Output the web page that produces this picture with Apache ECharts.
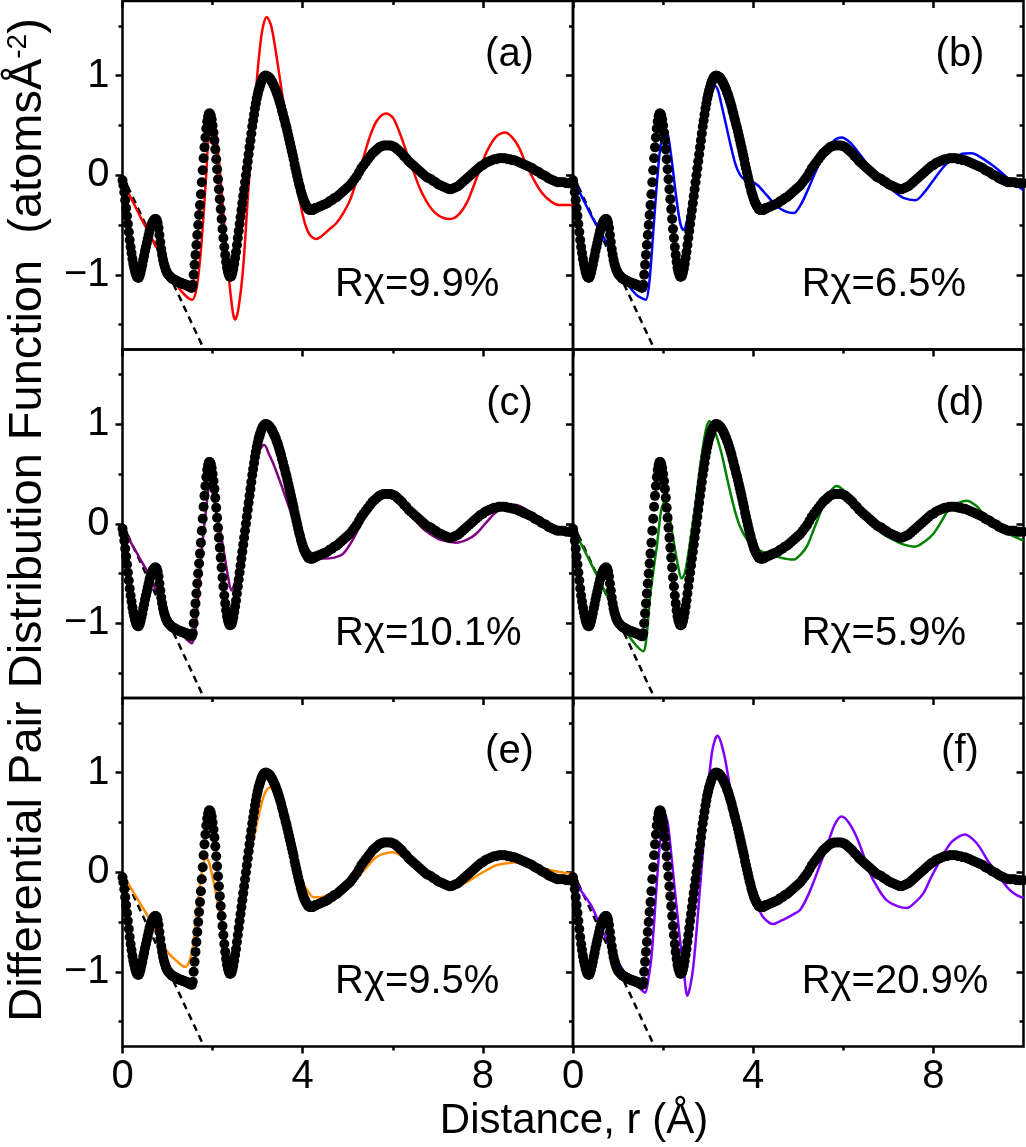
<!DOCTYPE html>
<html>
<head>
<meta charset="utf-8">
<script src="https://cdn.jsdelivr.net/npm/echarts@6/dist/echarts.min.js"></script>
<style>
html, body { margin: 0; padding: 0; background: #fff; }
#main { width: 1026px; height: 1147px; }
</style>
</head>
<body>
<div id="main"></div>
<script type="text/javascript">
// experimental d(r): dense part, x = 0 .. 4.30 step 0.02
var expDenseStart = 0, expDenseStep = 0.02;
var expDense = [
  -0.05,-0.10,-0.17,-0.25,-0.33,-0.41,-0.49,-0.57,-0.65,-0.72,
  -0.78,-0.84,-0.89,-0.93,-0.97,-1.00,-1.02,-1.03,-1.03,-1.01,
  -0.98,-0.94,-0.90,-0.85,-0.81,-0.76,-0.72,-0.68,-0.64,-0.60,
  -0.56,-0.53,-0.50,-0.48,-0.46,-0.45,-0.44,-0.44,-0.45,-0.48,
  -0.53,-0.60,-0.67,-0.74,-0.80,-0.85,-0.89,-0.92,-0.95,-0.97,
  -0.99,-1.00,-1.01,-1.02,-1.03,-1.04,-1.04,-1.05,-1.05,-1.06,
  -1.06,-1.07,-1.07,-1.08,-1.08,-1.08,-1.09,-1.09,-1.09,-1.10,
  -1.10,-1.10,-1.11,-1.11,-1.12,-1.12,-1.13,-1.13,-1.10,-1.00,
  -0.90,-0.80,-0.70,-0.60,-0.50,-0.40,-0.30,-0.19,-0.07,0.05,
  0.17,0.28,0.38,0.47,0.54,0.59,0.62,0.62,0.60,0.56,
  0.50,0.43,0.35,0.26,0.16,0.06,-0.04,-0.14,-0.24,-0.34,
  -0.44,-0.54,-0.63,-0.72,-0.80,-0.87,-0.93,-0.97,-1.00,-1.02,
  -1.02,-1.01,-0.98,-0.94,-0.89,-0.83,-0.77,-0.70,-0.63,-0.56,
  -0.49,-0.42,-0.35,-0.28,-0.21,-0.14,-0.07,0.00,0.07,0.14,
  0.21,0.28,0.35,0.42,0.49,0.55,0.61,0.67,0.72,0.77,
  0.81,0.85,0.88,0.91,0.94,0.96,0.98,0.99,1.00,1.00,
  1.00,0.99,0.99,0.98,0.97,0.95,0.94,0.92,0.90,0.88,
  0.86,0.83,0.81,0.78,0.75,0.72,0.69,0.65,0.62,0.58,
  0.55,0.51,0.48,0.44,0.40,0.36,0.32,0.28,0.24,0.20,
  0.16,0.11,0.07,0.03,-0.01,-0.05,-0.09,-0.12,-0.16,-0.19,
  -0.22,-0.25,-0.27,-0.29,-0.31,-0.32,-0.34,-0.34,-0.35,-0.35,
  -0.35,-0.35,-0.34,-0.34,-0.33,-0.33
];
// experimental d(r): sparse part, x = 4.35 .. 10 step 0.05
var expSparseStart = 4.35, expSparseStep = 0.05;
var expSparse = [
  -0.32,-0.31,-0.30,-0.29,-0.28,-0.26,-0.25,-0.23,-0.22,-0.20,
  -0.18,-0.16,-0.14,-0.12,-0.10,-0.07,-0.04,-0.01,0.03,0.07,
  0.10,0.13,0.16,0.19,0.22,0.24,0.26,0.28,0.29,0.30,
  0.30,0.30,0.30,0.29,0.28,0.26,0.24,0.22,0.19,0.17,
  0.14,0.12,0.10,0.08,0.06,0.04,0.02,0.00,-0.02,-0.03,
  -0.04,-0.06,-0.07,-0.09,-0.10,-0.11,-0.12,-0.13,-0.14,-0.14,
  -0.13,-0.12,-0.11,-0.09,-0.07,-0.05,-0.03,-0.01,0.01,0.03,
  0.05,0.07,0.09,0.10,0.12,0.13,0.14,0.15,0.16,0.16,
  0.17,0.17,0.17,0.17,0.16,0.16,0.15,0.15,0.14,0.13,
  0.12,0.11,0.10,0.09,0.08,0.07,0.05,0.04,0.03,0.01,
  0.00,-0.01,-0.03,-0.04,-0.05,-0.06,-0.07,-0.07,-0.07,-0.07,
  -0.08,-0.08,-0.08,-0.08
];

// -4*pi*rho0*r baseline
var baseline = [[0, 0], [1.81, -1.75]];

// model fits [r, d(r)]
var fitA = [[0,-0.06],[0.2,-0.24],[0.4,-0.42],[0.6,-0.59],[0.8,-0.76],[1.0,-0.94],[1.2,-1.1],[1.4,-1.21],[1.55,-1.25],[1.65,-1.12],
  [1.75,-0.7],[1.85,-0.05],[1.92,0.48],[1.98,0.65],[2.05,0.5],[2.15,0.1],[2.25,-0.45],[2.35,-0.98],[2.45,-1.38],[2.5,-1.45],
  [2.57,-1.35],[2.68,-0.92],[2.8,-0.1],[2.9,0.45],[3.0,1.05],[3.1,1.45],[3.2,1.59],[3.3,1.5],[3.4,1.25],[3.5,0.95],
  [3.6,0.65],[3.7,0.38],[3.8,0.12],[3.9,-0.15],[4.0,-0.4],[4.1,-0.55],[4.2,-0.62],[4.3,-0.64],[4.45,-0.6],[4.6,-0.54],
  [4.75,-0.48],[4.9,-0.38],[5.05,-0.25],[5.2,-0.05],[5.35,0.18],[5.5,0.4],[5.65,0.55],[5.85,0.62],[6.0,0.58],[6.15,0.43],
  [6.3,0.24],[6.45,0.05],[6.6,-0.13],[6.8,-0.3],[7.0,-0.4],[7.25,-0.44],[7.45,-0.4],[7.65,-0.27],[7.8,-0.1],[7.95,0.08],
  [8.1,0.25],[8.3,0.39],[8.5,0.43],[8.65,0.38],[8.8,0.28],[8.95,0.12],[9.1,-0.02],[9.3,-0.17],[9.5,-0.26],[9.7,-0.3],[10,-0.3]];
var fitB = [[0,-0.04],[0.2,-0.22],[0.4,-0.4],[0.6,-0.56],[0.8,-0.72],[1.0,-0.9],[1.2,-1.08],[1.4,-1.2],[1.55,-1.24],[1.62,-1.25],
  [1.7,-1.05],[1.78,-0.58],[1.85,-0.15],[1.93,0.25],[2.0,0.42],[2.06,0.46],[2.12,0.38],[2.2,0.12],[2.3,-0.25],[2.38,-0.48],
  [2.45,-0.55],[2.52,-0.48],[2.6,-0.3],[2.7,-0.05],[2.8,0.25],[2.9,0.52],[3.0,0.75],[3.1,0.88],[3.15,0.9],[3.22,0.85],
  [3.3,0.7],[3.4,0.5],[3.5,0.3],[3.6,0.12],[3.7,0.01],[3.8,-0.04],[3.95,-0.06],[4.1,-0.1],[4.3,-0.2],[4.5,-0.3],
  [4.7,-0.36],[4.9,-0.38],[5.05,-0.3],[5.2,-0.16],[5.4,0.05],[5.6,0.23],[5.8,0.35],[5.96,0.38],[6.15,0.33],[6.35,0.22],
  [6.55,0.1],[6.75,0.0],[6.95,-0.1],[7.15,-0.17],[7.35,-0.23],[7.6,-0.25],[7.8,-0.17],[8.0,-0.05],[8.2,0.07],[8.4,0.16],
  [8.6,0.21],[8.85,0.22],[9.05,0.18],[9.25,0.12],[9.45,0.05],[9.65,-0.03],[9.85,-0.1],[10,-0.15]];
var fitC = [[0,-0.05],[0.2,-0.2],[0.4,-0.36],[0.6,-0.52],[0.8,-0.73],[1.0,-0.91],[1.2,-1.05],[1.4,-1.15],[1.54,-1.2],[1.62,-1.05],
  [1.72,-0.5],[1.8,-0.08],[1.87,0.2],[1.94,0.42],[2.0,0.32],[2.08,0.12],[2.16,-0.05],[2.25,-0.28],[2.33,-0.5],[2.42,-0.67],
  [2.5,-0.58],[2.6,-0.35],[2.7,-0.02],[2.8,0.28],[2.9,0.52],[3.0,0.7],[3.1,0.78],[3.15,0.79],[3.25,0.7],[3.35,0.6],
  [3.5,0.42],[3.64,0.24],[3.75,0.1],[3.87,-0.03],[4.0,-0.16],[4.16,-0.28],[4.3,-0.33],[4.46,-0.35],[4.7,-0.34],[4.9,-0.3],
  [5.1,-0.17],[5.3,0.0],[5.5,0.14],[5.7,0.25],[5.9,0.3],[6.05,0.27],[6.25,0.17],[6.45,0.06],[6.65,-0.04],[6.85,-0.11],
  [7.05,-0.16],[7.4,-0.19],[7.65,-0.16],[7.85,-0.1],[8.05,0.0],[8.25,0.1],[8.45,0.17],[8.7,0.19],[8.9,0.16],[9.1,0.1],
  [9.3,0.03],[9.5,-0.03],[9.75,-0.09],[10,-0.13]];
var fitD = [[0,-0.05],[0.2,-0.22],[0.4,-0.4],[0.6,-0.58],[0.8,-0.76],[1.0,-0.94],[1.2,-1.1],[1.4,-1.22],[1.56,-1.28],[1.64,-1.1],
  [1.71,-0.73],[1.8,-0.42],[1.86,-0.23],[1.93,0.05],[1.97,0.16],[2.04,0.22],[2.1,0.17],[2.17,0.0],[2.25,-0.22],[2.33,-0.42],
  [2.41,-0.55],[2.48,-0.5],[2.56,-0.3],[2.64,-0.05],[2.71,0.17],[2.8,0.5],[2.9,0.82],[2.97,0.98],[3.03,1.03],[3.1,0.98],
  [3.2,0.86],[3.3,0.7],[3.4,0.5],[3.5,0.3],[3.6,0.12],[3.71,-0.03],[3.85,-0.15],[4.0,-0.23],[4.2,-0.28],[4.4,-0.31],
  [4.6,-0.34],[4.89,-0.36],[5.05,-0.31],[5.2,-0.22],[5.35,-0.05],[5.48,0.1],[5.6,0.24],[5.72,0.33],[5.85,0.38],[6.0,0.34],
  [6.22,0.23],[6.45,0.1],[6.67,-0.03],[6.9,-0.11],[7.11,-0.16],[7.35,-0.21],[7.59,-0.23],[7.8,-0.18],[8.0,-0.1],[8.2,0.04],
  [8.37,0.17],[8.55,0.21],[8.74,0.23],[8.95,0.18],[9.11,0.1],[9.35,0.01],[9.55,-0.07],[9.75,-0.12],[10,-0.17]];
var fitE = [[0,-0.02],[0.2,-0.17],[0.4,-0.32],[0.6,-0.47],[0.8,-0.65],[1.0,-0.8],[1.2,-0.89],[1.39,-0.95],[1.48,-0.9],[1.56,-0.75],
  [1.65,-0.41],[1.72,-0.13],[1.78,0.05],[1.85,0.15],[1.92,0.1],[1.98,-0.01],[2.06,-0.18],[2.13,-0.35],[2.22,-0.58],[2.3,-0.75],
  [2.42,-0.88],[2.5,-0.75],[2.61,-0.45],[2.72,-0.15],[2.83,0.15],[2.95,0.42],[3.05,0.62],[3.15,0.78],[3.27,0.85],[3.38,0.8],
  [3.5,0.65],[3.6,0.47],[3.72,0.25],[3.83,0.08],[3.94,-0.05],[4.1,-0.18],[4.24,-0.25],[4.4,-0.25],[4.6,-0.22],[4.8,-0.19],
  [4.98,-0.15],[5.2,-0.06],[5.42,0.05],[5.6,0.14],[5.75,0.18],[6.0,0.2],[6.2,0.16],[6.38,0.09],[6.55,0.02],[6.75,-0.05],
  [7.0,-0.12],[7.2,-0.15],[7.45,-0.13],[7.64,-0.1],[7.85,-0.04],[8.08,0.02],[8.3,0.07],[8.53,0.09],[8.82,0.1],[9.05,0.08],
  [9.27,0.05],[9.5,0.02],[9.75,0.0],[10,-0.02]];
var fitF = [[0,-0.05],[0.2,-0.2],[0.4,-0.33],[0.6,-0.53],[0.8,-0.73],[1.0,-0.9],[1.2,-1.04],[1.41,-1.13],[1.52,-1.18],[1.6,-1.21],
  [1.67,-1.08],[1.75,-0.81],[1.86,-0.11],[1.92,0.25],[1.97,0.45],[2.04,0.57],[2.1,0.5],[2.15,0.32],[2.22,0.0],[2.3,-0.35],
  [2.38,-0.7],[2.45,-0.95],[2.54,-1.24],[2.6,-1.15],[2.67,-0.95],[2.75,-0.55],[2.82,-0.15],[2.9,0.3],[2.97,0.72],[3.08,1.19],
  [3.15,1.33],[3.21,1.37],[3.28,1.31],[3.37,1.15],[3.46,0.92],[3.56,0.65],[3.67,0.4],[3.78,0.15],[3.9,-0.05],[4.0,-0.21],
  [4.1,-0.34],[4.22,-0.45],[4.45,-0.52],[4.6,-0.49],[4.74,-0.46],[4.9,-0.42],[5.04,-0.38],[5.2,-0.25],[5.33,-0.11],[5.48,0.07],
  [5.63,0.25],[5.8,0.47],[5.96,0.56],[6.12,0.5],[6.3,0.35],[6.45,0.17],[6.59,-0.01],[6.78,-0.17],[6.96,-0.28],[7.2,-0.34],
  [7.41,-0.36],[7.6,-0.3],[7.78,-0.21],[7.95,-0.05],[8.15,0.12],[8.3,0.24],[8.44,0.32],[8.7,0.38],[8.88,0.33],[9.03,0.25],
  [9.2,0.12],[9.41,-0.01],[9.55,-0.1],[9.7,-0.18],[9.85,-0.23],[10,-0.26]];

var panelLabels = ['(a)', '(b)', '(c)', '(d)', '(e)', '(f)'];
var rchiLabels = ['R\u03c7=9.9%', 'R\u03c7=6.5%', 'R\u03c7=10.1%', 'R\u03c7=5.9%', 'R\u03c7=9.5%', 'R\u03c7=20.9%'];
var fitColors = ['#ff0000', '#0000ff', '#800080', '#008000', '#ff8c00', '#8000ff'];
var fits = [fitA, fitB, fitC, fitD, fitE, fitF];

var xMajor = [0, 4, 8], xMinor = [2, 6];
var yMajor = [-1, 0, 1], yMinor = [-1.5, -0.5, 0.5, 1.5];

var FONT = '"Liberation Sans", Arial, sans-serif';
var LEFT = [122.5, 573], TOP = [1, 349.5, 698], W = 450.5, H = 348.5;

var expPts = [];
expDense.forEach(function (v, i) { expPts.push([+(expDenseStart + i * expDenseStep).toFixed(2), v]); });
expSparse.forEach(function (v, i) { expPts.push([+(expSparseStart + i * expSparseStep).toFixed(2), v]); });

function minus(v) { return v < 0 ? '\u2212' + (-v) : String(v); }

function tickAxis(gi, dim, pos, vals, len, inside, label) {
    var ax = {
        type: 'value', gridIndex: gi, position: pos,
        min: dim === 'x' ? 0 : -1.75, max: dim === 'x' ? 10 : 1.75,
        axisLine: { show: false, onZero: false }, splitLine: { show: false },
        axisTick: { show: true, inside: inside, length: len, customValues: vals,
                    lineStyle: { color: '#000', width: 2.5 } },
        axisLabel: { show: false }
    };
    if (label) {
        ax.axisLabel = { show: true, customValues: vals, formatter: minus,
                         fontSize: 40, fontFamily: FONT, color: '#000',
                         margin: dim === 'x' ? 10 : 13 };
    }
    return ax;
}

var grids = [], xAxes = [], yAxes = [], series = [], graphics = [];
for (var k = 0; k < 6; k++) {
    var col = k % 2, row = Math.floor(k / 2);
    grids.push({ left: LEFT[col], top: TOP[row], width: W, height: H, show: true,
                 borderColor: '#000', borderWidth: 2.5, backgroundColor: 'rgba(0,0,0,0)',
                 containLabel: false, outerBoundsMode: 'none' });
    xAxes.push(tickAxis(k, 'x', 'bottom', xMajor, 7, false, row === 2));
    xAxes.push(tickAxis(k, 'x', 'bottom', xMinor, 4, false, false));
    xAxes.push(tickAxis(k, 'x', 'top', xMajor, 7, true, false));
    xAxes.push(tickAxis(k, 'x', 'top', xMinor, 4, true, false));
    yAxes.push(tickAxis(k, 'y', 'left', yMajor, 7, false, col === 0));
    yAxes.push(tickAxis(k, 'y', 'left', yMinor, 4, false, false));
    yAxes.push(tickAxis(k, 'y', 'right', yMajor, 7, true, false));
    yAxes.push(tickAxis(k, 'y', 'right', yMinor, 4, true, false));

    series.push({ type: 'line', xAxisIndex: 4 * k, yAxisIndex: 4 * k, data: baseline,
                  symbol: 'none', z: 1, silent: true,
                  lineStyle: { color: '#000', width: 2.5, type: [7, 5] } });
    series.push({ type: 'line', xAxisIndex: 4 * k, yAxisIndex: 4 * k, data: fits[k],
                  symbol: 'none', smooth: 0.3, z: 2, silent: true,
                  lineStyle: { color: fitColors[k], width: 2.5 } });
    series.push({ type: 'scatter', xAxisIndex: 4 * k, yAxisIndex: 4 * k, data: expPts,
                  symbol: 'circle', symbolSize: 10, z: 3, silent: true,
                  itemStyle: { color: '#000', opacity: 1 } });

    graphics.push({ type: 'text', x: LEFT[col] + 387, y: TOP[row] + 54,
        style: { text: panelLabels[k], fontSize: 40, fontFamily: FONT, fill: '#000',
                 textAlign: 'center', align: 'center', textVerticalAlign: 'middle', verticalAlign: 'middle' } });
    graphics.push({ type: 'text', x: LEFT[col] + (col ? 228.7 : 212.5), y: TOP[row] + 284,
        style: { text: rchiLabels[k], fontSize: 40, fontFamily: FONT, fill: '#000',
                 textAlign: 'left', align: 'left', textVerticalAlign: 'middle', verticalAlign: 'middle' } });
}

graphics.push({ type: 'text', x: 574, y: 1121,
    style: { text: 'Distance, r (\u00c5)', fontSize: 42, fontFamily: FONT, fill: '#000',
             textAlign: 'center', align: 'center', textVerticalAlign: 'middle', verticalAlign: 'middle' } });
graphics.push({ type: 'text', x: 28, y: 520, rotation: Math.PI / 2,
    style: { text: '{n|Differential Pair Distribution Function  (atoms\u00c5}{s|-2}{n|)}',
             rich: { n: { fontSize: 47, fontFamily: FONT, fill: '#000', color: '#000' },
                     s: { fontSize: 28, fontFamily: FONT, fill: '#000', color: '#000', verticalAlign: 'top' } },
             fill: '#000',
             textAlign: 'center', align: 'center', textVerticalAlign: 'middle', verticalAlign: 'middle' } });

var chart = echarts.init(document.getElementById('main'));
chart.setOption({
    animation: false,
    backgroundColor: '#fff',
    grid: grids,
    xAxis: xAxes,
    yAxis: yAxes,
    series: series,
    graphic: { elements: graphics }
});
</script>
</body>
</html>
